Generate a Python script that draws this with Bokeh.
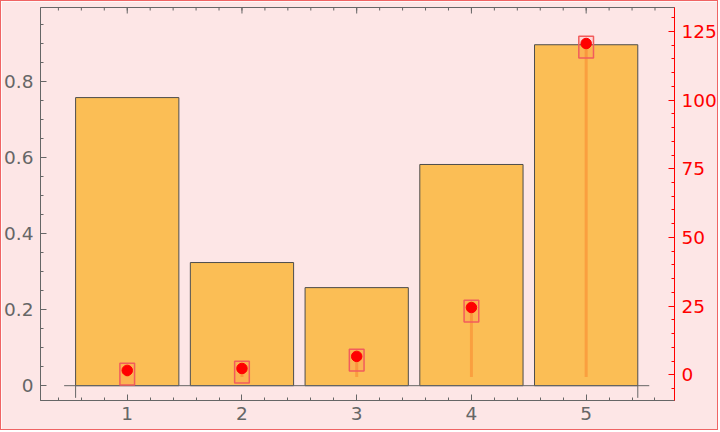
import numpy as np
from bokeh.plotting import figure
from bokeh.models import Range1d, LinearAxis, FixedTicker
from bokeh.embed import file_html
from bokeh.resources import INLINE

# ---- data ----
categories = [1, 2, 3, 4, 5]
bar_values = [0.758, 0.324, 0.258, 0.582, 0.897]          # left axis
point_values = [1.6, 2.3, 6.7, 24.5, 120.6]              # right axis
stem_base = -0.8                                          # right axis

left_ticks = [0, 0.2, 0.4, 0.6, 0.8]
left_minor = [round(v, 2) for v in np.arange(0.0, 1.0, 0.05)]
right_ticks = [0, 25, 50, 75, 100, 125]
right_minor = list(range(-5, 135, 5))
x_ticks = [1, 2, 3, 4, 5]
x_minor = [round(v, 1) for v in np.arange(0.4, 5.8, 0.2)]

BG = "#fde6e6"
GREY = "#666666"
FONT = "DejaVu Sans"
FS = "18.5px"

Y_TOP = 0.995
p = figure(width=718, height=430, output_backend="svg", toolbar_location=None,
           x_range=Range1d(0.244, 5.77), y_range=Range1d(-0.039, Y_TOP),
           min_border_left=38, min_border_right=44, min_border_top=6, min_border_bottom=31,
           background_fill_color=BG, border_fill_color=BG)
p.styles = {"border": "1px solid #f06464"}
p.xgrid.visible = False
p.ygrid.visible = False
p.outline_line_color = GREY
p.outline_line_width = 1
p.extra_y_ranges = {"right": Range1d(-9.36, 133.7)}

def style_axis(ax, color):
    ax.axis_line_color = color
    ax.major_tick_line_color = color
    ax.minor_tick_line_color = color
    ax.major_tick_in = 6
    ax.major_tick_out = 0
    ax.minor_tick_in = 3
    ax.minor_tick_out = 0
    ax.major_label_text_color = color
    ax.major_label_text_font = FONT
    ax.major_label_text_font_size = FS

# left axis
ly = p.yaxis[0]
ly.ticker = FixedTicker(ticks=left_ticks, minor_ticks=left_minor)
ly.major_label_overrides = {0: "0"}
style_axis(ly, GREY)
ly.major_label_standoff = 7

# bottom axis
bx = p.xaxis[0]
bx.ticker = FixedTicker(ticks=x_ticks, minor_ticks=x_minor)
style_axis(bx, GREY)
bx.major_label_standoff = 6

# top frame ticks (mirror of bottom, no labels)
px_per_unit = 380.0
p.segment(x0=x_ticks, y0=[Y_TOP] * len(x_ticks), x1=x_ticks,
          y1=[Y_TOP - 6 / px_per_unit] * len(x_ticks), line_color=GREY, line_width=1)
p.segment(x0=x_minor, y0=[Y_TOP] * len(x_minor), x1=x_minor,
          y1=[Y_TOP - 3 / px_per_unit] * len(x_minor), line_color=GREY, line_width=1)

# right axis
ry = LinearAxis(y_range_name="right", ticker=FixedTicker(ticks=right_ticks, minor_ticks=right_minor))
style_axis(ry, "#ff0000")
ry.major_label_standoff = 7
p.add_layout(ry, "right")

# bars
bar_w = 0.9
p.vbar(x=categories, top=bar_values, bottom=0, width=bar_w,
       fill_color="#fbbe55", line_color="#4d4d4d", line_width=1)

# zero line and origin marks
x0 = categories[0] - bar_w / 2
x1 = categories[-1] + bar_w / 2
p.segment(x0=[x0 - 0.1], y0=[0], x1=[x1 + 0.1], y1=[0], line_color=GREY, line_width=1)
p.segment(x0=[x0, x1], y0=[0, 0], x1=[x0, x1], y1=[-0.032, -0.032], line_color=GREY, line_width=1)

# stems
pv = np.array(point_values)
p.segment(x0=categories, y0=[stem_base] * len(pv), x1=categories, y1=pv,
          line_color="#f99a3c", line_width=3, line_alpha=0.85, y_range_name="right")

# boxes around points
cx = np.array(categories, dtype=float)
p.quad(left=cx - 0.064, right=cx + 0.064, top=pv + 2.6, bottom=pv - 5.3,
       fill_color="#ff3030", fill_alpha=0.08, line_color="#f25c5c", line_width=1.5,
       y_range_name="right")

# points
p.scatter(x=categories, y=point_values, size=10.5, fill_color="#ff0000",
          line_color="#ff0000", y_range_name="right")

open("out.html", "w").write(file_html(p, INLINE))
